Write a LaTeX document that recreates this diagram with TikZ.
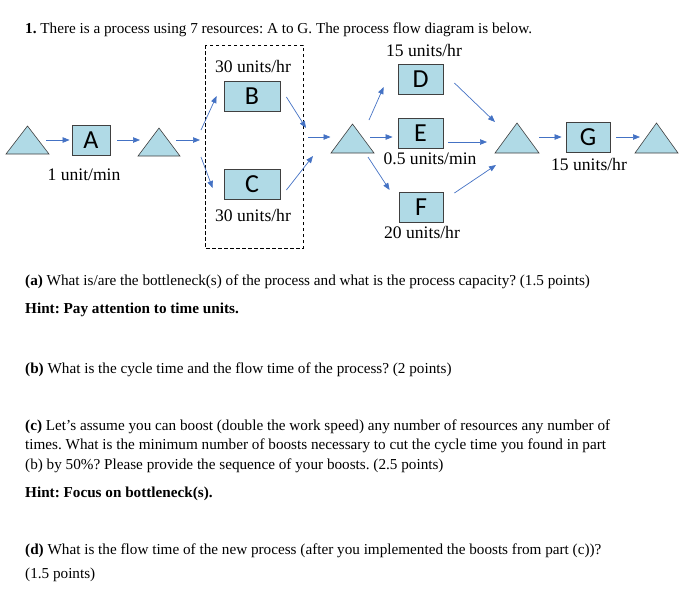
\documentclass[tikz,border=0pt]{standalone}
\usepackage{fontspec}
\setmainfont{Liberation Serif}
\newfontfamily\boxfont{Carlito}
\usepackage{xcolor}
\usepackage{tikz}
\usetikzlibrary{arrows.meta,positioning,calc}
\frenchspacing

\definecolor{flowblue}{RGB}{68,114,196}
\definecolor{tankblue}{RGB}{176,218,230}

\tikzset{
  res/.style={draw=black!75, fill=tankblue, line width=0.8pt, minimum height=30pt, inner sep=0pt,
    font=\boxfont\fontsize{26}{26}\selectfont},
  flow/.style={draw=flowblue, line width=0.7pt, -{Triangle[length=7pt,width=5.5pt]}},
  tank/.style={draw=black!75, fill=tankblue, line width=0.6pt},
  rate/.style={anchor=base, inner sep=0pt, font=\fontsize{17.6}{19}\selectfont},
  qtext/.style={anchor=base west, inner sep=0pt, align=left, font=\fontsize{15.2}{19.5}\selectfont},
}

\begin{document}
\begin{tikzpicture}[x=1pt,y=-1pt]
	\useasboundingbox (0,0) rectangle (684,600);
	\node[qtext] (title) at (25,33) {\textbf{1.} There is a process using 7 resources: A to G. The process flow diagram is below.};

	% buffers
	\foreach \n/\x/\y/\w/\h in {t1/27.5/154/21.5/28, t2/159/156/21/28, t3/352.5/153/21.5/29, t4/517/153/22/30, t5/656.5/153/21.5/30}
	{
		\coordinate (\n) at (\x,\y);
		\draw[tank] (\n) ++(-\w,0) -- ++(2*\w,0) -- ++(-\w,-\h) -- cycle;
	}

	% resources
	\node[res,minimum width=38pt] (A) at (91,140) {A};
	\node[res,minimum width=56pt] (B) at (252,96) {B};
	\node[res,minimum width=56pt] (C) at (252,184) {C};
	\node[res,minimum width=45pt] (D) at (420.5,79) {D};
	\node[res,minimum width=45pt] (E) at (420.5,133) {E};
	\node[res,minimum width=44pt] (F) at (421,207) {F};
	\node[res,minimum width=44pt] (G) at (588,137) {G};

	\draw[dashed,line width=0.7pt,dash pattern=on 3.5pt off 2.5pt] (205,45) rectangle (303,248);
	\coordinate (split) at (200,140);
	\coordinate (merge) at (303,140);

	% capacities
	\node[rate] (capB) at (253,72.7) {30 units/hr};
	\node[rate] (capC) at (253,221.7) {30 units/hr};
	\node[rate] (capA) at (84,180) {1 unit/min};
	\node[rate] (capD) at (424,56) {15 units/hr};
	\node[rate] (capE) at (430,164) {0.5 units/min};
	\node[rate] (capF) at (422,238.5) {20 units/hr};
	\node[rate] (capG) at (589,170) {15 units/hr};

	% flows
	\draw[flow] ($(t1)+(18.5,-14)$) -- ([xshift=-2pt]A.west);
	\draw[flow] ([xshift=7pt]A.east) -- ($(t2)+(-19,-16)$);
	\draw[flow] ($(t2)+(17,-16)$) -- (split);
	\draw[flow] ([shift={(1,-10)}]split) -- ([shift={(-7,0)}]B.west);
	\draw[flow] ([shift={(1,17)}]split) -- ([shift={(-11,4)}]C.west);
	\draw[flow] ([shift={(6,1)}]B.east) -- ([shift={(3,-12)}]merge);
	\draw[flow] ([shift={(6,6)}]C.east) -- ([shift={(10,16)}]merge);
	\draw[flow] ([shift={(5,-3)}]merge) -- ($(t3)+(-22,-16)$);
	\draw[flow] ($(t3)+(16.5,-33)$) -- ([shift={(-14,8)}]D.west);
	\draw[flow] ($(t3)+(17.5,-16)$) -- ([shift={(-5,4)}]E.west);
	\draw[flow] ($(t3)+(15.5,4)$) -- ([shift={(-9,-17)}]F.west);
	\draw[flow] ([shift={(11,4)}]D.east) -- ($(t4)+(-22,-31)$);
	\draw[flow] ([shift={(5,9)}]E.east) -- ($(t4)+(-30,-11)$);
	\draw[flow] ([shift={(11,-14)}]F.east) -- ($(t4)+(-21,12)$);
	\draw[flow] ($(t4)+(22,-16)$) -- ([xshift=-4pt]G.west);
	\draw[flow] ([xshift=6pt]G.east) -- ($(t5)+(-16.5,-16)$);

	% questions
	\node[qtext] (qa) at (25,285) {\textbf{(a)} What is/are the bottleneck(s) of the process and what is the process capacity? (1.5 points)};
	\node[qtext] (hinta) at (25,313) {\textbf{Hint: Pay attention to time units.}};
	\node[qtext] (qb) at (25,373) {\textbf{(b)} What is the cycle time and the flow time of the process? (2 points)};
	\node[qtext] (qc) at (25,469) {\textbf{(c)} Let's assume you can boost (double the work speed) any number of resources any number of\\times. What is the minimum number of boosts necessary to cut the cycle time you found in part\\(b) by 50\%? Please provide the sequence of your boosts. (2.5 points)};
	\node[qtext] (hintc) at (25,497) {\textbf{Hint: Focus on bottleneck(s).}};
	\node[qtext,font=\fontsize{15.2}{23.5}\selectfont] (qd) at (25,578) {\textbf{(d)} What is the flow time of the new process (after you implemented the boosts from part (c))?\\(1.5 points)};
\end{tikzpicture}
\end{document}
